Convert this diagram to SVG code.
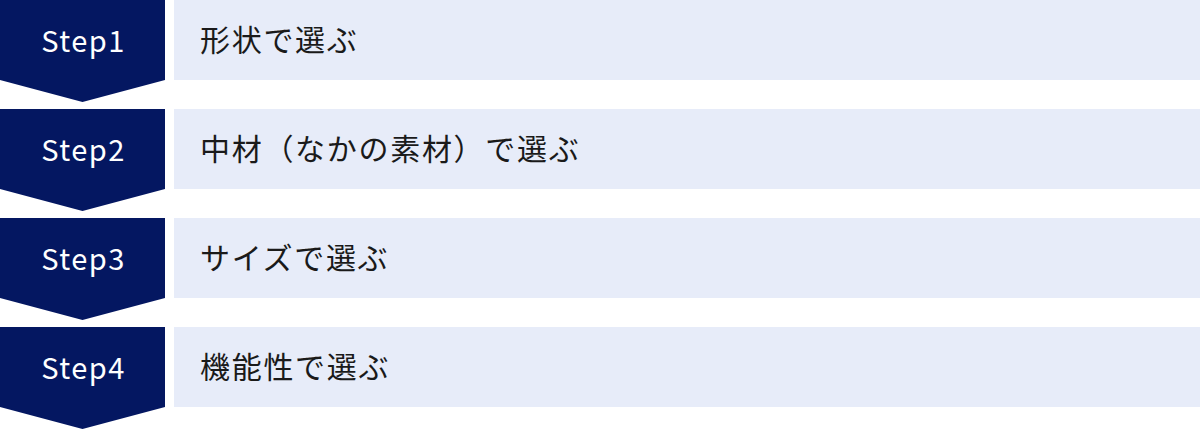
<svg xmlns="http://www.w3.org/2000/svg" width="1200" height="429" viewBox="0 0 1200 429">
<style>
.chev{fill:#041761}
.bar{fill:#E7ECF9}
.step{font-family:"Noto Sans CJK JP","Noto Sans",sans-serif;font-size:29px;font-weight:400;fill:#ffffff;text-anchor:middle;letter-spacing:1.5px}
.lbl{font-family:"Noto Sans CJK JP","Noto Sans",sans-serif;font-size:30px;fill:#1a1a1a;letter-spacing:1.7px}
</style>
<defs>
<polygon id="chevron" points="0,0 165,0 165,80 82.5,102 0,80"/>
</defs>
<g id="step1">
<use href="#chevron" class="chev"/>
<rect class="bar" x="174" y="0" width="1026" height="80"/>
<text class="step" x="83.5" y="52">Step1</text>
<text class="lbl" x="200" y="51">形状で選ぶ</text>
</g>
<g id="step2" transform="translate(0,109)">
<use href="#chevron" class="chev"/>
<rect class="bar" x="174" y="0" width="1026" height="80"/>
<text class="step" x="83.5" y="52">Step2</text>
<text class="lbl" x="200" y="51">中材（なかの素材）で選ぶ</text>
</g>
<g id="step3" transform="translate(0,218)">
<use href="#chevron" class="chev"/>
<rect class="bar" x="174" y="0" width="1026" height="80"/>
<text class="step" x="83.5" y="52">Step3</text>
<text class="lbl" x="200" y="51">サイズで選ぶ</text>
</g>
<g id="step4" transform="translate(0,327)">
<use href="#chevron" class="chev"/>
<rect class="bar" x="174" y="0" width="1026" height="80"/>
<text class="step" x="83.5" y="52">Step4</text>
<text class="lbl" x="200" y="51">機能性で選ぶ</text>
</g>
<g id="connectors"/>
</svg>
